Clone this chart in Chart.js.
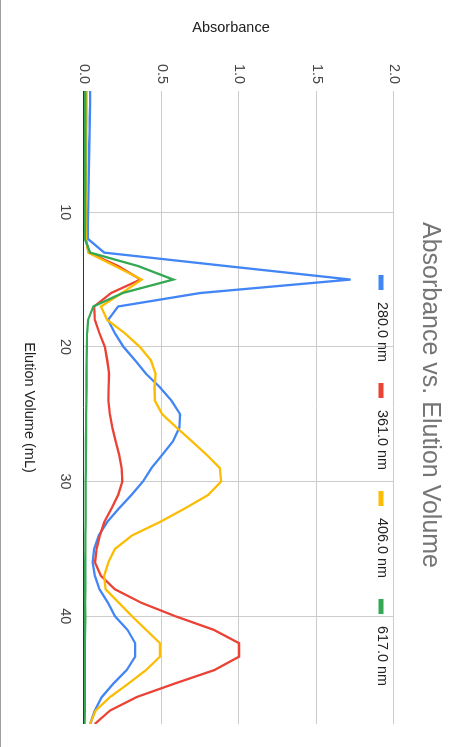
<!DOCTYPE html>
<html>
<head>
<meta charset="utf-8">
<title>Absorbance vs. Elution Volume</title>
<script src="https://cdn.jsdelivr.net/npm/chart.js@4.4.1/dist/chart.umd.min.js"></script>
<style>
  html, body { margin: 0; padding: 0; background: #fff; overflow: hidden; }
  #wrap {
    position: absolute; left: 0; top: 0;
    width: 747px; height: 464px;
    box-sizing: border-box;
    border-bottom: 1px solid #9e9e9e;
    transform-origin: 0 0;
    transform: translateX(464px) rotate(90deg);
  }
</style>
</head>
<body>
<div id="wrap"><canvas id="grafico" width="747" height="463"></canvas></div>
<script>
// === DATA ===
const volumes = [1,2,3,4,5,6,7,8,9,10,11,12,13,14,15,16,17,18,19,20,21,22,23,24,
  25,26,27,28,29,30,31,32,33,34,35,36,37,38,39,40,41,42,43,44,45,46,47,48];

const abs280 = [0.040,0.039,0.037,0.036,0.034,0.033,0.031,0.030,0.028,0.026,0.025,0.027,
  0.13,0.92,1.72,0.75,0.22,0.155,0.20,0.255,0.33,0.40,0.49,0.565,
  0.62,0.615,0.575,0.505,0.435,0.38,0.305,0.225,0.15,0.095,0.065,0.056,
  0.07,0.10,0.155,0.20,0.28,0.33,0.33,0.275,0.19,0.115,0.07,0.04];

const abs361 = [0.012,0.012,0.012,0.012,0.012,0.012,0.012,0.012,0.012,0.012,0.012,0.012,
  0.03,0.22,0.365,0.175,0.065,0.07,0.10,0.135,0.15,0.162,0.159,0.157,
  0.167,0.183,0.204,0.226,0.243,0.248,0.22,0.178,0.131,0.103,0.082,0.071,
  0.11,0.20,0.37,0.59,0.835,1.0,1.0,0.84,0.585,0.34,0.168,0.07];

const abs406 = [0.016,0.016,0.016,0.015,0.015,0.015,0.015,0.015,0.015,0.014,0.014,0.014,
  0.028,0.20,0.372,0.245,0.11,0.15,0.265,0.36,0.432,0.462,0.455,0.458,
  0.505,0.598,0.695,0.79,0.877,0.885,0.80,0.65,0.49,0.31,0.20,0.157,
  0.13,0.14,0.225,0.31,0.40,0.49,0.49,0.40,0.286,0.168,0.075,0.039];

const abs617 = [0.008,0.008,0.008,0.008,0.008,0.008,0.008,0.008,0.007,0.007,0.007,0.006,
  0.04,0.35,0.576,0.25,0.06,0.026,0.02,0.018,0.017,0.016,0.016,0.015,
  0.014,0.014,0.013,0.012,0.012,0.011,0.011,0.010,0.010,0.009,0.009,0.008,
  0.008,0.008,0.007,0.008,0.007,0.006,0.006,0.006,0.005,0.005,0.005,0.004];

const seriesLabels = ['280.0 nm', '361.0 nm', '406.0 nm', '617.0 nm'];
const seriesColors = ['#4285f4', '#ea4335', '#fbbc04', '#34a853'];

const xTicks = [10, 20, 30, 40];
const yTicks = [0, 0.5, 1, 1.5, 2];
const yTickLabels = ['0.0', '0.5', '1.0', '1.5', '2.0'];

const FONT = '"Liberation Sans", Arial, sans-serif';

// === TITLE, AXIS TITLE + LEGEND (Google Sheets places them its own way) ===
const extras = {
  id: 'extras',
  afterDraw(chart) {
    const c = chart.ctx;
    c.save();
    c.fillStyle = '#757575';
    c.font = '25px ' + FONT;
    c.textAlign = 'center';
    c.textBaseline = 'middle';
    c.fillText('Absorbance vs. Elution Volume', 395, 34);

    // vertical axis title, centred on the whole chart height
    c.save();
    c.translate(28, 233);
    c.rotate(-Math.PI / 2);
    c.fillStyle = '#222';
    c.font = '14.5px ' + FONT;
    c.fillText('Absorbance', 0, 0);
    c.restore();

    c.font = '14.4px ' + FONT;
    c.textAlign = 'left';
    let x = 275;
    chart.data.datasets.forEach(ds => {
      c.fillStyle = ds.borderColor;
      c.fillRect(x, 80.5, 15, 5);
      c.fillStyle = '#222';
      c.fillText(ds.label, x + 27, 82);
      x += 27 + c.measureText(ds.label).width + 21;
    });
    c.restore();
  }
};

// === CHART ===
const datasets = [abs280, abs361, abs406, abs617].map((serie, i) => ({
  label: seriesLabels[i],
  data: volumes.map((v, j) => ({ x: v, y: serie[j] })),
  borderColor: seriesColors[i],
  backgroundColor: seriesColors[i],
  borderWidth: 2.3,
  pointRadius: 0,
  tension: 0,
  order: 4 - i
}));

const ctx = document.getElementById('grafico').getContext('2d');
new Chart(ctx, {
  type: 'line',
  data: { datasets },
  plugins: [extras],
  options: {
    responsive: false,
    animation: false,
    events: [],
    layout: { padding: { top: 70, right: 23, left: 0, bottom: 0 } },
    plugins: { legend: { display: false }, title: { display: false }, tooltip: { enabled: false } },
    scales: {
      x: {
        type: 'linear',
        min: volumes[0],
        max: volumes[volumes.length - 1],
        afterBuildTicks: scale => { scale.ticks = xTicks.map(v => ({ value: v })); },
        afterFit: scale => { scale.height = 83; },
        border: { display: false },
        grid: { color: '#cccccc', drawTicks: false },
        ticks: { color: '#444', padding: 10, font: { family: FONT, size: 14.4 }, callback: v => String(v) },
        title: { display: true, text: 'Elution Volume (mL)', color: '#222',
          font: { family: FONT, size: 14.5 }, padding: { top: 0, bottom: 19 } }
      },
      y: {
        min: 0,
        max: 2,
        afterBuildTicks: scale => { scale.ticks = yTicks.map(v => ({ value: v })); },
        afterFit: scale => { scale.width = 91; },
        border: { display: false },
        grid: { color: c => (c.tick && c.tick.value === 0 ? '#333333' : '#cccccc'), drawTicks: false },
        ticks: { color: '#444', padding: 7, font: { family: FONT, size: 14.4 },
          callback: (v, i) => yTickLabels[i] }
      }
    }
  }
});
</script>
</body>
</html>
